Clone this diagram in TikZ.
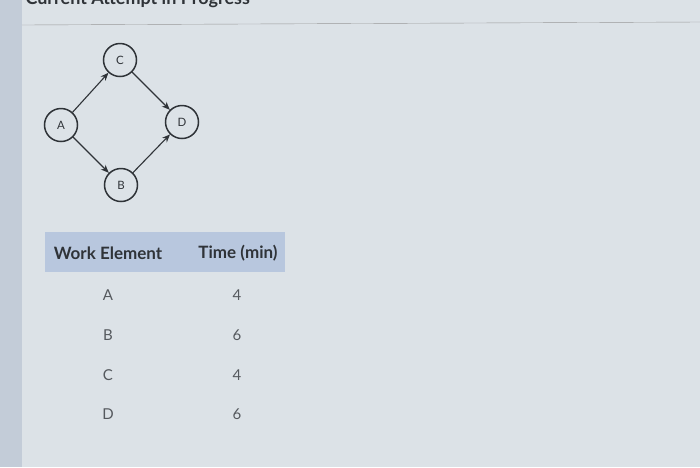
\documentclass[tikz,border=0pt]{standalone}
\usepackage{fontspec}
\setmainfont{Lato}
\usetikzlibrary{arrows.meta}
\definecolor{screen}{HTML}{DCE2E7}
\definecolor{strip}{HTML}{C3CCD8}
\definecolor{headfill}{HTML}{B8C7DE}
\definecolor{ink}{HTML}{2F3338}
\definecolor{cellink}{HTML}{55595E}
\tikzset{
    task/.style={draw=ink, line width=1.5pt, circle, minimum size=33pt, inner sep=0pt, font=\fontsize{11.5}{11.5}\selectfont, text=ink},
    link/.style={-{Stealth[length=8pt,width=6.5pt]}, ink, line width=1.1pt},
    head/.style={font=\bfseries\fontsize{17}{17}\selectfont, text=ink},
    cell/.style={font=\fontsize{15}{15}\selectfont, text=cellink}
}
\begin{document}
\begin{tikzpicture}[x=1pt, y=-1pt]
        \useasboundingbox (0, 0) rectangle (700, 467);
        \clip (0, 0) rectangle (700, 467);
        \fill[screen] (0, 0) rectangle (700, 467); % screen
        \fill[strip] (0, 0) rectangle (22, 467); % left edge
        \node[anchor=base west, font=\bfseries\fontsize{18}{18}\selectfont, text=ink] (title) at (22, 4) {Current Attempt in Progress};
        \draw[gray!80, thin] (22, 25) -- (700, 22);
        % precedence graph
        \node[task] (A) at (61, 125) {A};
        \node[task] (C) at (120, 60) {C};
        \node[task] (D) at (182, 122) {D};
        \node[task] (B) at (121, 185) {B};
        \draw[link] (A) -- (C);
        \draw[link] (C) -- (D);
        \draw[link] (A) -- (B);
        \draw[link] (B) -- (D);
        % table
        \fill[headfill] (45, 232) rectangle (285, 272);
        \node[head] (workhead) at (108, 253) {Work Element};
        \node[head] (timehead) at (238, 253) {Time (min)};
        \node[cell] (wa) at (108, 295) {A};
        \node[cell] (ta) at (237, 295) {4};
        \node[cell] (wb) at (108, 335) {B};
        \node[cell] (tb) at (237, 335) {6};
        \node[cell] (wc) at (108, 375) {C};
        \node[cell] (tc) at (237, 375) {4};
        \node[cell] (wd) at (108, 414) {D};
        \node[cell] (td) at (237, 414) {6};
    \end{tikzpicture}
\end{document}
